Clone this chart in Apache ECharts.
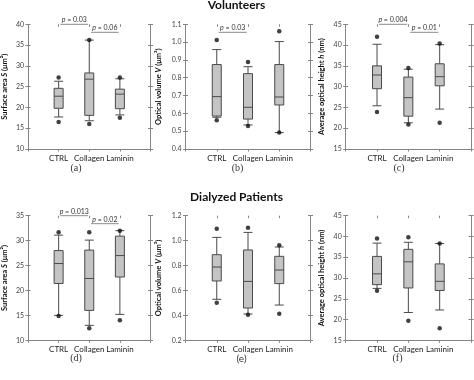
<!DOCTYPE html>
<html><head><meta charset="utf-8">
<script src="https://cdn.jsdelivr.net/npm/echarts@6/dist/echarts.min.js"></script>
<style>html,body{margin:0;padding:0;background:#fff}#c{width:474px;height:380px}</style>
</head><body><div id="c"></div>
<script>
// ---------- data ----------
const categories = ['CTRL', 'Collagen', 'Laminin'];

// box = [lower whisker, Q1, median, Q3, upper whisker]; dots = [low, high]
const volSurfaceBox  = [[17.7, 19.8, 22.7, 24.6, 26.3], [16.8, 18.1, 26.8, 28.3, 36.2], [18.2, 19.7, 23.2, 24.4, 26.9]];
const volSurfaceDots = [[16.5, 27.2], [16.0, 36.2], [17.5, 27.2]];
const volVolumeBox   = [[0.578, 0.585, 0.694, 0.874, 0.958], [0.535, 0.568, 0.634, 0.823, 0.862], [0.492, 0.647, 0.692, 0.874, 1.003]];
const volVolumeDots  = [[0.561, 1.012], [0.529, 0.888], [0.492, 1.061]];
const volHeightBox   = [[25.4, 29.5, 32.8, 35.0, 40.2], [21.3, 22.9, 27.35, 32.3, 34.2], [24.6, 30.2, 32.4, 35.5, 40.1]];
const volHeightDots  = [[23.9, 42.0], [20.9, 34.5], [21.3, 40.4]];

const patSurfaceBox  = [[15.0, 21.4, 25.4, 28.0, 31.1], [13.0, 16.0, 22.4, 28.1, 30.1], [15.2, 22.7, 27.0, 30.9, 32.0]];
const patSurfaceDots = [[14.9, 31.7], [12.4, 31.7], [14.0, 32.0]];
const patVolumeBox   = [[0.529, 0.676, 0.788, 0.887, 1.026], [0.411, 0.459, 0.673, 0.925, 1.066], [0.483, 0.655, 0.764, 0.874, 0.949]];
const patVolumeDots  = [[0.502, 1.096], [0.406, 1.104], [0.414, 0.962]];
const patHeightBox   = [[27.5, 28.4, 31.0, 35.2, 38.4], [21.7, 27.6, 33.9, 36.9, 38.6], [22.3, 27.0, 29.2, 33.4, 38.3]];
const patHeightDots  = [[26.95, 39.5], [19.7, 39.8], [17.9, 38.3]];

// p-value brackets: [from category, to category, level, p]
const volSurfaceP = [['CTRL', 'Collagen', 0, '0.03'], ['Collagen', 'Laminin', 1, '0.06']];
const volVolumeP  = [['CTRL', 'Collagen', 1, '0.03']];
const volHeightP  = [['CTRL', 'Collagen', 0, '0.004'], ['Collagen', 'Laminin', 1, '0.01']];
const patSurfaceP = [['CTRL', 'Collagen', 0, '0.013'], ['Collagen', 'Laminin', 1, '0.02']];

// axis ranges [min, max, interval]
const surfaceVolAxis  = [10, 40, 5];
const volumeVolAxis   = [0.4, 1.1, 0.1];
const heightVolAxis   = [15, 45, 5];
const surfacePatAxis  = [10, 35, 5];
const volumePatAxis   = [0.2, 1.2, 0.2];
const heightPatAxis   = [15, 45, 5];

const rowTitles = ['Volunteers', 'Dialyzed Patients'];
const panelTags = ['(a)', '(b)', '(c)', '(d)', '(e)', '(f)'];

// ---------- layout / style ----------
const FONT = 'Lato';
const AX = '#858585';
const cols = [{left: 26.3, width: 124.2}, {left: 185.5, width: 125}, {left: 345.7, width: 125.5}];
const rows = [{top: 24.3, height: 124.7}, {top: 215.7, height: 124.6}];
const names = ['Surface area {i|S} (μm²)', 'Optical volume {i|V} (μm³)', 'Average optical height {i|h} (nm)'];
const nameGaps = [19, 22.5, 20];

const panels = [
  {box: volSurfaceBox, dots: volSurfaceDots, axis: surfaceVolAxis, dec: 0, br: volSurfaceP},
  {box: volVolumeBox,  dots: volVolumeDots,  axis: volumeVolAxis,  dec: 1, br: volVolumeP},
  {box: volHeightBox,  dots: volHeightDots,  axis: heightVolAxis,  dec: 0, br: volHeightP},
  {box: patSurfaceBox, dots: patSurfaceDots, axis: surfacePatAxis, dec: 0, br: patSurfaceP},
  {box: patVolumeBox,  dots: patVolumeDots,  axis: volumePatAxis,  dec: 1, br: []},
  {box: patHeightBox,  dots: patHeightDots,  axis: heightPatAxis,  dec: 0, br: []}
];

const xCats = [''].concat(categories, ['']);
const grid = [], xAxis = [], yAxis = [], series = [];
panels.forEach((p, g) => {
  const r = rows[Math.floor(g / 3)], c = cols[g % 3];
  grid.push({left: c.left, top: r.top, width: c.width, height: r.height, containLabel: false});
  const xi = xAxis.length;
  xAxis.push({gridIndex: g, type: 'category', data: xCats, boundaryGap: false,
    axisLine: {lineStyle: {color: AX, width: 1}},
    axisTick: {show: true, length: 2.5, interval: 0, lineStyle: {color: AX}},
    axisLabel: {fontSize: 8, color: '#1a1a1a', margin: 5, fontFamily: FONT, interval: 0},
    splitLine: {show: false}});
  xAxis.push({gridIndex: g, type: 'category', data: xCats, boundaryGap: false,
    axisLine: {show: false},
    axisTick: {show: true, inside: true, length: 2.5, interval: 0, lineStyle: {color: AX}},
    axisLabel: {show: false}, splitLine: {show: false}});
  const [mn, mx, iv] = p.axis;
  const common = {gridIndex: g, type: 'value', min: mn, max: mx, interval: iv, splitLine: {show: false}};
  const yi = yAxis.length;
  yAxis.push(Object.assign({}, common, {position: 'left',
    axisLine: {show: true, lineStyle: {color: AX, width: 1}},
    axisTick: {show: true, length: 2.5, lineStyle: {color: AX}},
    axisLabel: {fontSize: 7, color: '#444', margin: 4, fontFamily: FONT,
      formatter: v => v.toFixed(p.dec)},
    name: names[g % 3], nameLocation: 'middle', nameGap: nameGaps[g % 3],
    nameTextStyle: {fontSize: 7.5, fontWeight: 'bold', color: '#111', fontFamily: FONT,
      rich: {i: {fontSize: 7.5, fontWeight: 'bold', fontStyle: 'italic', color: '#111', fontFamily: FONT}}}}));
  yAxis.push(Object.assign({}, common, {position: 'left', axisLine: {show: false},
    axisTick: {show: true, inside: true, length: 2.5, lineStyle: {color: AX}}, axisLabel: {show: false}}));
  yAxis.push(Object.assign({}, common, {position: 'right',
    axisLine: {show: true, lineStyle: {color: AX, width: 1}},
    axisTick: {show: true, length: 2.5, lineStyle: {color: AX}}, axisLabel: {show: false}}));
  yAxis.push(Object.assign({}, common, {position: 'right', axisLine: {show: false},
    axisTick: {show: true, inside: true, length: 2.5, lineStyle: {color: AX}}, axisLabel: {show: false}}));
  p.xi = xi; p.yi = yi;
  series.push({type: 'boxplot', xAxisIndex: xi, yAxisIndex: yi,
    encode: {x: 0, y: [1, 2, 3, 4, 5]},
    data: p.box.map((b, i) => [i + 1].concat(b)),
    boxWidth: [9, 9],
    itemStyle: {color: '#c4c4c4', borderColor: '#4a4a4a', borderWidth: 1},
    emphasis: {disabled: true}, silent: true, animation: false});
  series.push({type: 'scatter', xAxisIndex: xi, yAxisIndex: yi,
    data: p.dots.flatMap((d, i) => d.map(v => [i + 1, v])),
    symbol: 'circle', symbolSize: 4.5, itemStyle: {color: '#111'},
    silent: true, animation: false, z: 5});
});

const chart = echarts.init(document.getElementById('c'), null, {renderer: 'canvas'});
chart.setOption({animation: false, grid, xAxis, yAxis, series});

// ---------- annotations ----------
const graphic = [];
const tagPos = [[76, 168.5], [237.5, 168.5], [399, 168.5], [76, 358.5], [241.5, 358.5], [397.5, 358.5]];
panels.forEach((p, g) => {
  const conv = (idx, v) => chart.convertToPixel({xAxisIndex: p.xi, yAxisIndex: p.yi}, [idx, v]);
  const top = p.axis[1];
  p.br.forEach(b => {
    const i1 = categories.indexOf(b[0]) + 1, i2 = categories.indexOf(b[1]) + 1;
    const a = conv(i1, top), e = conv(i2, top);
    const sp = e[0] - a[0];
    const y = a[1] + b[2] * 8;
    const x1 = a[0] + sp * 0.06, x2 = e[0] - sp * 0.04;
    graphic.push({type: 'line', shape: {x1, y1: y, x2, y2: y}, style: {stroke: '#8a8a8a', lineWidth: 1}, silent: true});
    graphic.push({type: 'text', x: (x1 + x2) / 2, y: y - 4.2, silent: true,
      style: {text: '{i|p}{n| = ' + b[3] + '}', align: 'center', verticalAlign: 'middle',
        rich: {i: {fontSize: 7, fontStyle: 'italic', fontFamily: FONT, fill: '#333'},
               n: {fontSize: 7, fontFamily: FONT, fill: '#333'}}}});
  });
  graphic.push({type: 'text', x: tagPos[g][0], y: tagPos[g][1], silent: true,
    style: {text: panelTags[g], align: 'center', verticalAlign: 'middle', fontSize: 10,
      fontFamily: g === 4 ? FONT : 'Liberation Serif', fill: '#333'}});
});
graphic.push({type: 'text', x: 236.5, y: 5.5, silent: true,
  style: {text: rowTitles[0], align: 'center', verticalAlign: 'middle', fontSize: 12, fontWeight: 'bold', fontFamily: FONT, fill: '#111'}});
graphic.push({type: 'text', x: 236.5, y: 196.7, silent: true,
  style: {text: rowTitles[1], align: 'center', verticalAlign: 'middle', fontSize: 12, fontWeight: 'bold', fontFamily: FONT, fill: '#111'}});
chart.setOption({graphic});
</script>
</body></html>
